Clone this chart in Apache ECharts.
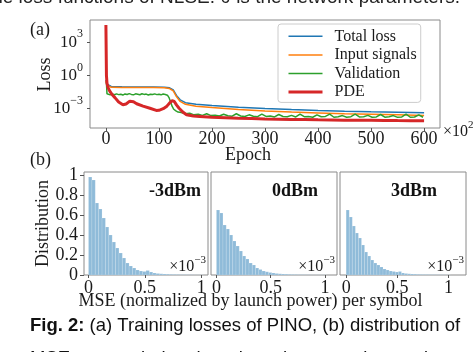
<!DOCTYPE html>
<html><head><meta charset="utf-8">
<script src="https://cdn.jsdelivr.net/npm/echarts/dist/echarts.min.js"></script>
<style>html,body{margin:0;padding:0;background:#fff}#c{width:474px;height:352px}</style>
</head><body><div id="c"></div>
<script>
// ---------- (a) training losses ----------
const lossEpochs = [0,2,5,10,30,60,90,110,120,127,133,140,150,170,200,250,300,350,400,450,500,550,600];
const totalLoss = [0.4,0.16,0.11,0.1,0.095,0.093,0.091,0.087,0.076,0.05,0.016,0.0063,0.0035,0.0025,0.0019,0.00135,0.00105,0.00085,0.0007,0.0006,0.00052,0.00048,0.00044];
const inputLoss = [0.32,0.14,0.1,0.085,0.083,0.082,0.081,0.079,0.066,0.04,0.0126,0.0045,0.0025,0.00166,0.00126,0.00083,0.00063,0.0005,0.00042,0.00035,0.00031,0.00028,0.00025];

const valEpochs = [1,2,4,8,12,16,20,24,28,32,36,40,44,48,52,56,60,64,68,72,76,80,84,88,92,96,100,104,108,112,116,
  119,122,125,128,132,136,142,150,158,166,174,182,190,198,
  206,214,222,230,238,246,254,262,270,278,286,294,302,310,318,326,334,342,350,358,366,374,382,390,398,
  406,414,422,430,438,446,454,462,470,478,486,494,502,510,518,526,534,542,550,558,566,574,582,590,598];
const valLoss = [0.25,0.022,0.02,0.0178,0.0209,0.0182,0.0219,0.0186,0.0204,0.017,0.0214,0.0191,0.0229,0.0195,0.0178,0.0219,0.02,0.0182,0.0224,0.0195,0.0209,0.0174,0.0204,0.0191,0.0219,0.0186,0.02,0.0178,0.0209,0.0191,0.0166,
  0.01,0.004,0.0016,0.00089,0.00063,0.0005,0.00045,0.00035,0.0004,0.00028,0.00032,0.00025,0.00035,0.00024,
  0.00026,0.00022,0.00032,0.00023,0.00021,0.00035,0.00022,0.0002,0.00028,0.00021,0.00019,0.00032,0.0002,0.00022,0.00018,0.0003,0.0002,0.00019,0.00025,0.00018,0.00033,0.00019,0.0002,0.00017,0.00028,
  0.00019,0.0002,0.00032,0.00017,0.00019,0.00024,0.00017,0.00019,0.00032,0.00018,0.00019,0.00025,0.00017,0.00018,0.0003,0.00017,0.00019,0.00024,0.000166,0.00018,0.00032,0.00017,0.00018,0.00028,0.00017];

const pdeEpochs = [0,1,2,4,7,12,17,24,32,38,45,52,58,70,83,95,100,108,115,121,125,129,133,138,145,152,165,177,200,225,250,275,300,325,350,375,400,425,450,475,500,525,550,575,600];
const pdeLoss = [35000,1.0,0.2,0.08,0.04,0.018,0.01,0.004,0.0023,0.0027,0.0048,0.0042,0.0028,0.0017,0.0011,0.0007,0.00072,0.001,0.0017,0.0037,0.0052,0.0045,0.0022,0.0011,0.0005,0.00029,0.00022,0.0002,0.000166,0.00015,0.000135,0.000128,0.000117,0.000112,0.000107,0.000104,0.0001,0.000097,0.000093,0.000091,0.000089,0.000087,0.000085,0.000084,0.000083];

const seriesNames = ['Total loss','Input signals','Validation','PDE'];
const epochTicks = [0,100,200,300,400,500,600];
const lossDecadeTicks = [-3,0,3];   // exponents: 10^-3, 10^0, 10^3

// ---------- (b) MSE distributions ----------
const BIN_WIDTH = 0.03;
const binStarts = [0,0.03,0.06,0.09,0.12,0.15,0.18,0.21,0.24,0.27,0.3,0.33,0.36,0.39,0.42,0.45,0.48,0.51,0.54,0.57,0.6,0.63,0.66,0.69,0.72,0.75,0.78,0.81,0.84,0.87,0.9,0.93,0.96,0.99];
const distM3 = [0.98,0.95,0.72,0.66,0.57,0.48,0.40,0.33,0.27,0.22,0.17,0.12,0.09,0.07,0.05,0.04,0.035,0.045,0.03,0.02,0.015,0.012,0.01,0.008,0.006,0.005,0.004,0.003,0.003,0.002,0.002,0.001,0.001,0.001];
const dist0 = [0.65,0.62,0.50,0.46,0.40,0.34,0.29,0.24,0.19,0.16,0.12,0.10,0.07,0.055,0.04,0.032,0.025,0.02,0.015,0.012,0.01,0.008,0.006,0.005,0.004,0.003,0.003,0.002,0.002,0.001,0.001,0.001,0.001,0.001];
const distP3 = [0.65,0.58,0.49,0.42,0.37,0.30,0.23,0.19,0.15,0.12,0.10,0.08,0.06,0.05,0.04,0.035,0.03,0.035,0.02,0.015,0.012,0.01,0.008,0.006,0.005,0.004,0.004,0.003,0.003,0.002,0.002,0.002,0.001,0.001];
const panelTitles = ['-3dBm','0dBm','3dBm'];
const mseTicks = [0,0.5,1];
const distTicks = [0,0.2,0.4,0.6,0.8,1];

const SERIF = "'Liberation Serif','Times New Roman',serif";
const SANS = "'Liberation Sans',Arial,sans-serif";
const TXT = '#1a1a1a';
const SPINE = '#8a8a8a';
const BAR = '#8fbbd9';
const colors = ['#1f77b4','#ff7f0e','#2ca02c','#d62728'];
const lineWidths = [1.5,1.5,1.5,3];

// log-scale y: plot log10 of the loss values on a linear axis
const logPts = (xs, ys) => xs.map((x,i) => [x, Math.log10(ys[i])]);
const zip = (a,b) => a.map((v,i)=>[v,b[i]]);
const chart = echarts.init(document.getElementById('c'), null, {renderer:'canvas'});

const histGrids = [{left:84,width:124},{left:211,width:126},{left:340,width:126}];
const histRanges = [[-0.04,1.06],[-0.05,1.11],[-0.06,1.17]];
const histData = [distM3, dist0, distP3];

function renderBar(params, api) {
  const x0 = api.value(0), h = api.value(1);
  const p0 = api.coord([x0, 0]);
  const p1 = api.coord([x0 + BIN_WIDTH, h]);
  return {type:'rect', shape:{x:p0[0], y:p1[1], width:p1[0]-p0[0], height:p0[1]-p1[1]},
    style:{fill:BAR, stroke:'rgba(255,255,255,0.35)', lineWidth:0.4}};
}

const grids = [{left:90, top:20, width:350, height:108, show:true, borderColor:SPINE, borderWidth:1, backgroundColor:'#fff'}];
histGrids.forEach(g => grids.push({left:g.left, width:g.width, top:172, height:103, show:true, borderColor:SPINE, borderWidth:1}));

const noLine = {show:false, onZero:false};
const xAxes = [{
  type:'value', gridIndex:0, min:-30, max:630, position:'bottom',
  axisLine:noLine, splitLine:{show:false},
  axisTick:{show:true, length:3, customValues:epochTicks, lineStyle:{color:'#555'}},
  axisLabel:{customValues:epochTicks, margin:2, fontFamily:SERIF, fontSize:18, color:TXT}
}];
const yAxes = [{
  type:'value', gridIndex:0, min:-4.74, max:5, position:'left',
  axisLine:noLine, splitLine:{show:false},
  axisTick:{show:true, length:3, customValues:lossDecadeTicks, lineStyle:{color:'#555'}},
  axisLabel:{customValues:lossDecadeTicks, margin:7, fontFamily:SERIF, fontSize:17, color:TXT, lineHeight:28,
    formatter: v => '10{s|' + (v<0 ? '\u2212'+(-v) : v) + '}',
    rich:{s:{fontFamily:SERIF, fontSize:12, lineHeight:12, verticalAlign:'top', color:TXT}}}
}];
histGrids.forEach((g,i) => {
  xAxes.push({type:'value', gridIndex:i+1, min:histRanges[i][0], max:histRanges[i][1], position:'bottom',
    axisLine:noLine, splitLine:{show:false},
    axisTick:{show:true, length:3, customValues:mseTicks, lineStyle:{color:'#555'}},
    axisLabel:{customValues:mseTicks, margin:4, fontFamily:SERIF, fontSize:18, color:TXT,
      formatter: v => String(v)}});
  yAxes.push({type:'value', gridIndex:i+1, min:0, max:1.03, position:'left',
    axisLine:noLine, splitLine:{show:false},
    axisTick:{show:i===0, length:4, customValues:distTicks, lineStyle:{color:'#555'}},
    axisLabel:{show:i===0, customValues:distTicks, margin:6, fontFamily:SERIF, fontSize:18, color:TXT,
      formatter: v => String(v)}});
});

const lossX = [lossEpochs, lossEpochs, valEpochs, pdeEpochs];
const lossY = [totalLoss, inputLoss, valLoss, pdeLoss];
const series = seriesNames.map((n,i) => ({
  name:n, type:'line', xAxisIndex:0, yAxisIndex:0, data:logPts(lossX[i], lossY[i]),
  symbol:'none', lineStyle:{width:lineWidths[i], color:colors[i]}, itemStyle:{color:colors[i]}, z:2+i
}));
histData.forEach((d,i) => series.push({type:'custom', xAxisIndex:i+1, yAxisIndex:i+1,
  data:zip(binStarts,d), encode:{x:0,y:1}, renderItem:renderBar, clip:true, silent:true}));

const titleCenters = [175,295,414];
const graphic = [
  {type:'text', x:460, y:-2, style:{text:'the loss functions of NLSE. \u03b8 is the network parameters.', font:'19px '+SANS, fill:'#222', textAlign:'right', textVerticalAlign:'middle'}},
  {type:'text', x:30, y:30, style:{text:'(a)', font:'18px '+SERIF, fill:TXT, textVerticalAlign:'middle'}},
  {type:'text', x:45, y:74.5, rotation:Math.PI/2, style:{text:'Loss', font:'18px '+SERIF, fill:TXT, textAlign:'center', textVerticalAlign:'middle'}},
  {type:'text', x:248, y:155, style:{text:'Epoch', font:'18px '+SERIF, fill:TXT, textAlign:'center', textVerticalAlign:'middle'}},
  {type:'text', x:443, y:132, style:{text:'\u00d710{s|2}', font:'16px '+SERIF, fill:TXT, textVerticalAlign:'middle', lineHeight:24,
     rich:{s:{fontSize:11, lineHeight:11, verticalAlign:'top', fill:TXT, fontFamily:SERIF}}}},
  {type:'text', x:30, y:160, style:{text:'(b)', font:'18px '+SERIF, fill:TXT, textVerticalAlign:'middle'}},
  {type:'text', x:43, y:223.5, rotation:Math.PI/2, style:{text:'Distribution', font:'18px '+SERIF, fill:TXT, textAlign:'center', textVerticalAlign:'middle'}},
  {type:'text', x:250.5, y:301.5, style:{text:'MSE (normalized by launch power) per symbol', font:'18px '+SERIF, fill:TXT, textAlign:'center', textVerticalAlign:'middle'}},
  {type:'text', x:30, y:326, style:{text:'{b|Fig. 2:} (a) Training losses of PINO, (b) distribution of', font:'18.5px '+SANS, fill:'#111', textVerticalAlign:'middle',
     rich:{b:{fontWeight:'bold', fontSize:18.5, fontFamily:SANS, fill:'#111'}}}},
  {type:'text', x:30, y:358.5, style:{text:'MSE per symbol at three launch powers in test data.', font:'18.5px '+SANS, fill:'#111', textVerticalAlign:'middle'}}
];
panelTitles.forEach((t,i) => graphic.push({type:'text', x:titleCenters[i], y:191, style:{text:t, font:'bold 18px '+SERIF, fill:'#111', textAlign:'center', textVerticalAlign:'middle'}}));
histGrids.forEach(g => graphic.push({type:'text', x:g.left+g.width-2, y:267, style:{text:'\u00d710{s|\u22123}', font:'16px '+SERIF, fill:TXT, textAlign:'right', textVerticalAlign:'middle', lineHeight:24,
   rich:{s:{fontSize:11, lineHeight:11, verticalAlign:'top', fill:TXT, fontFamily:SERIF}}}}));

chart.setOption({
  animation:false,
  backgroundColor:'#fff',
  grid:grids, xAxis:xAxes, yAxis:yAxes, series:series,
  legend:{data:seriesNames.map((n,i)=>({name:n, lineStyle:{width:lineWidths[i], color:colors[i]}})),
    orient:'vertical', left:278, top:24, itemWidth:34, itemHeight:14, itemGap:0,
    itemStyle:{opacity:0},
    padding:[3,4,1,9], backgroundColor:'rgba(255,255,255,0.85)', borderColor:'#cccccc', borderWidth:1, borderRadius:3,
    textStyle:{fontFamily:SERIF, fontSize:16, color:TXT, lineHeight:18.6, padding:[0,0,0,7]}},
  graphic:graphic
});
</script></body></html>
